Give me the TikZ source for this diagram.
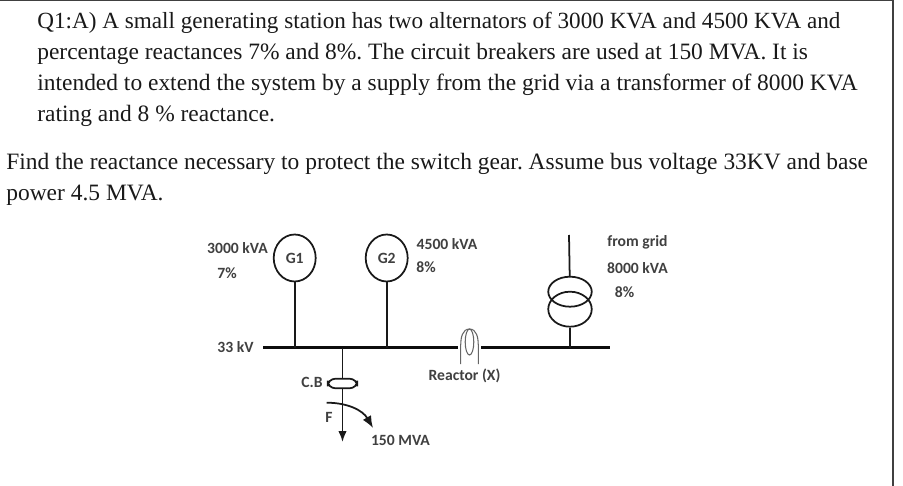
\documentclass[tikz,border=0pt]{standalone}
\usepackage{fontspec}
\setmainfont{Liberation Serif}
\newfontfamily\labelfont{Carlito}
\usetikzlibrary{shapes.geometric,arrows.meta}
\newcommand{\qsize}{\fontsize{13.35}{16}\selectfont\frenchspacing}
\newcommand{\lsize}{\labelfont\bfseries\fontsize{8.9}{10}\selectfont}

\begin{document}
\begin{tikzpicture}[x=0.02cm,y=-0.02cm,
    qnode/.style={anchor=base west,inner sep=0pt,font=\qsize,text=black!90},
    lnode/.style={inner sep=0pt,font=\lsize,text=black!75},
    gnode/.style={draw=black!90,line width=1pt,ellipse,minimum width=0.84cm,minimum height=0.94cm,inner sep=0pt,font=\lsize,text=black!75},
    tnode/.style={draw=black!90,line width=1pt,ellipse,minimum width=0.87cm,inner sep=0pt},
    wire/.style={draw=black!90,line width=1pt},
    busbar/.style={draw=black!95,line width=1.5pt}]
    \useasboundingbox (0,0) rectangle (903,486);

    \coordinate (tl) at (0,0.7);
    \coordinate (tr) at (893,0.7);
    \coordinate (br) at (893,486);
    \draw[black!75,line width=0.8pt] (tl) -- (tr) -- (br);

    \node[qnode,font=\fontsize{13.18}{16}\selectfont\frenchspacing] (q1) at (37,28.5) {Q1:A) A small generating station has two alternators of 3000 KVA and 4500 KVA and};
    \node[qnode] (q2) at (37,60) {percentage reactances 7\% and 8\%. The circuit breakers are used at 150 MVA. It is};
    \node[qnode] (q3) at (37,91) {intended to extend the system by a supply from the grid via a transformer of 8000 KVA};
    \node[qnode] (q4) at (37,121.5) {rating and 8 \% reactance.};
    \node[qnode] (q5) at (6,169.5) {Find the reactance necessary to protect the switch gear. Assume bus voltage 33KV and base};
    \node[qnode] (q6) at (6,201) {power 4.5 MVA.};

    \node[gnode] (g1) at (294.7,258) {G1};
    \node[gnode] (g2) at (386.7,258) {G2};
    \node[tnode,minimum height=0.6cm] (t1) at (570,291.7) {};
    \node[tnode,minimum height=0.7cm] (t2) at (570,309.2) {};
    \node[draw=black!90,line width=1pt,rounded corners=1.5mm,minimum width=0.59cm,minimum height=0.19cm,inner sep=0pt] (cb) at (342.5,383.5) {};

    \coordinate (busl) at (263,347.7);
    \coordinate (bus1) at (294.7,347.7);
    \coordinate (busf) at (342.5,347.7);
    \coordinate (bus2) at (386.7,347.7);
    \coordinate (xl) at (458,347.7);
    \coordinate (xr) at (481,347.7);
    \coordinate (bus3) at (570,347.7);
    \coordinate (busr) at (610,347.7);
    \coordinate (grid) at (569,235);
    \coordinate (ftip) at (342.5,442);
    \coordinate (fa) at (326.7,402.7);
    \coordinate (fb) at (373,428);

    \draw[busbar] (busl) -- (xl);
    \draw[busbar] (xr) -- (busr);
    \draw[wire] (g1) -- (bus1);
    \draw[wire] (g2) -- (bus2);
    \draw[wire] (grid) -- (t1);
    \draw[wire] (t2) -- (bus3);
    \draw[wire] (busf) -- (cb);
    \draw[wire,-{Latex[length=2.2mm,width=1.7mm]}] (cb) -- (ftip);
    \draw[wire,-{Latex[length=2.4mm,width=1.9mm]}] (fa) to[out=0,in=120] (fb);

    % reactor
    \coordinate (ra) at (460.7,364);
    \coordinate (rb) at (478.3,364);
    \draw[black!60,line width=0.6pt] (ra) -- (460.7,345) to[out=90,in=180] (469.5,329) to[out=0,in=90] (478.3,345) -- (rb);
    \draw[black!60,line width=0.6pt] (469.5,342) ellipse [x radius=4.3,y radius=13];

    \node[lnode] (l1) at (237.5,248) {3000 kVA};
    \node[lnode] (l2) at (227,273) {7\%};
    \node[lnode] (l3) at (235.5,347) {33 kV};
    \node[lnode] (l4) at (312,382) {C.B};
    \node[lnode] (l5) at (329,417) {F};
    \node[lnode] (l6) at (400.5,440) {150 MVA};
    \node[lnode] (l7) at (447,244) {4500 kVA};
    \node[lnode] (l8) at (426,267) {8\%};
    \node[lnode] (l9) at (637.5,242.5) {from grid};
    \node[lnode] (l10) at (637.5,268) {8000 kVA};
    \node[lnode] (l11) at (624.5,292) {8\%};
    \node[lnode] (l12) at (464.5,376) {Reactor (X)};
\end{tikzpicture}
\end{document}
